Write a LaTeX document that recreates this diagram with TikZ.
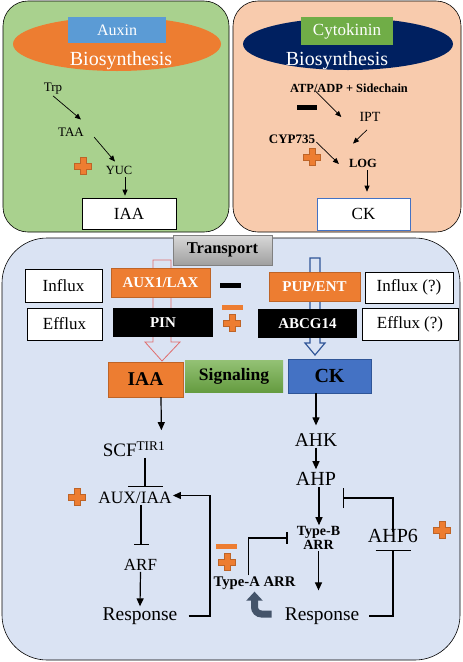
\documentclass[tikz,border=0pt]{standalone}
\usepackage{fontspec}
\setmainfont{Liberation Serif}
\usetikzlibrary{arrows.meta}

\definecolor{leafgreen}{HTML}{A9D18E}
\definecolor{peach}{HTML}{F8CBAD}
\definecolor{paleblue}{HTML}{DAE3F3}
\definecolor{hormorange}{HTML}{ED7D31}
\definecolor{skyblue}{HTML}{5B9BD5}
\definecolor{navy}{HTML}{002060}
\definecolor{grassgreen}{HTML}{70AD47}
\definecolor{ckblue}{HTML}{4472C4}
\definecolor{slate}{HTML}{44546A}
\definecolor{pinkred}{HTML}{E06C6C}
\definecolor{darkblue}{HTML}{2F5597}

\newcommand{\fsz}[1]{\fontsize{#1}{#1}\selectfont}

\tikzset{
  lbl/.style={inner sep=1pt},
  arr/.style={-{Triangle[length=6pt,width=5pt]}, line width=0.7pt},
  arrb/.style={-{Triangle[length=8pt,width=7pt]}, line width=1.2pt},
  inh/.style={-{Bar[width=#1]}, line width=1.2pt},
  inh/.default=20pt,
  whitebox/.style={draw, fill=white, line width=0.6pt, inner sep=0pt},
  orangebox/.style={draw=hormorange!80!black, fill=hormorange, text=white, font=\bfseries\fsz{15}, inner sep=0pt},
  blackbox/.style={fill=black, text=white, font=\bfseries\fsz{15}, inner sep=0pt},
  fat/.style={-{Triangle[length=9pt,width=16pt]}, line width=7pt, draw=slate},
  pluss/.pic={
    \fill[hormorange, draw=hormorange!80!black, line width=0.3pt]
      (-8.5,-3) -- (-3,-3) -- (-3,-8.5) -- (3,-8.5) -- (3,-3) -- (8.5,-3) --
      (8.5,3) -- (3,3) -- (3,8.5) -- (-3,8.5) -- (-3,3) -- (-8.5,3) -- cycle;
  }
}

\begin{document}
\begin{tikzpicture}[x=1pt, y=-1pt]
  \useasboundingbox (0,0) rectangle (463,662);

  % auxin biosynthesis
  \draw [fill=leafgreen, line width=0.6pt, rounded corners=25pt] (3,1) rectangle (229,232);
  \fill [hormorange] (117,44) ellipse [x radius=104pt, y radius=27pt];
  \node [fill=skyblue, minimum width=98pt, minimum height=26pt, text=white, font=\fsz{16}] (auxin) at (117,30) {Auxin};
  \node [lbl, text=white, font=\fsz{20}] (bioa) at (121,61) {Biosynthesis};
  \node [lbl, font=\fsz{13}] (trp) at (53,89) {Trp};
  \node [lbl, font=\fsz{13}] (taa) at (71,132) {TAA};
  \node [lbl, font=\fsz{12.5}] (yuc) at (119,170) {YUC};
  \node [whitebox, minimum width=94pt, minimum height=31pt, font=\fsz{17}] (iaatop) at (129,213.5) {IAA};
  \pic at (83,166) {pluss};
  \draw [arr] (trp.south) -- ([xshift=10pt,yshift=7pt]taa.north);
  \draw [arr] ([xshift=9pt,yshift=-5pt]taa.east) -- ([xshift=-4pt,yshift=3pt]yuc.north);
  \draw [arr] ([xshift=6pt,yshift=-2pt]yuc.south) -- ([xshift=-4pt,yshift=2pt]iaatop.north);

  % cytokinin biosynthesis
  \draw [fill=peach, line width=0.6pt, rounded corners=25pt] (233,1) rectangle (461,232);
  \fill [navy] (348,44) ellipse [x radius=105pt, y radius=26pt];
  \node [fill=grassgreen, minimum width=92pt, minimum height=28pt, text=white, font=\fsz{17}] (cyto) at (347,31) {Cytokinin};
  \node [lbl, text=white, font=\fsz{20}] (biob) at (337,61) {Biosynthesis};
  \node [lbl, font=\bfseries\fsz{12.4}] (atp) at (349,88) {ATP/ADP + Sidechain};
  \node [lbl, font=\fsz{14}] (ipt) at (370,117) {IPT};
  \node [lbl, font=\bfseries\fsz{13}] (cyp) at (292,139) {CYP735};
  \node [lbl, font=\bfseries\fsz{12.5}] (log) at (363,163) {LOG};
  \node [whitebox, draw=ckblue, minimum width=93pt, minimum height=32pt, font=\fsz{17}] (cktop) at (363.5,214) {CK};
  \fill (297,105) rectangle (317,110);
  \pic at (312,157) {pluss};
  \draw [arr] ([xshift=-34pt,yshift=3pt]atp.south) -- ([xshift=-17pt]ipt.west);
  \draw [arr] ([xshift=-3pt,yshift=-7pt]ipt.south) -- ([xshift=-10pt,yshift=14pt]log.north);
  \draw [arr] ([yshift=-3pt]cyp.east) -- ([xshift=-9pt,yshift=-1pt]log.west);
  \draw [arr] ([xshift=4pt,yshift=-2pt]log.south) -- ([xshift=3.5pt,yshift=6pt]cktop.north);

  % transport and signaling
  \draw [fill=paleblue, line width=0.6pt, rounded corners=45pt] (2,238) rectangle (460,660);
  \draw [pinkred, line width=0.8pt] (153,260) -- (153,342) -- (145,342) -- (162,361) -- (180,342) -- (171,342) -- (171,260) -- cycle;
  \draw [darkblue, line width=1.2pt] (310,258) -- (310,343) -- (305,343) -- (315,355) -- (325,343) -- (320,343) -- (320,258) -- cycle;
  \node [draw=gray, top color=gray!30, bottom color=gray!75, minimum width=99pt, minimum height=30pt, inner sep=0pt, font=\bfseries\fsz{16.5}] (transport) at (222.5,250) {Transport};

  \node [whitebox, minimum width=77pt, minimum height=33pt, font=\fsz{17}] (influx) at (63.5,285.5) {Influx};
  \node [orangebox, minimum width=99pt, minimum height=29pt] (aux1) at (160.5,282.5) {AUX1/LAX};
  \node [orangebox, minimum width=91pt, minimum height=29pt] (pup) at (314.5,286.5) {PUP/ENT};
  \node [whitebox, minimum width=88pt, minimum height=31pt, font=\fsz{17}] (influxq) at (409,287.5) {Influx (?)};
  \node [whitebox, minimum width=75pt, minimum height=32pt, font=\fsz{17}] (efflux) at (64.5,324) {Efflux};
  \node [blackbox, minimum width=100pt, minimum height=29pt] (pin) at (163,322.5) {PIN};
  \node [blackbox, minimum width=99pt, minimum height=29pt] (abcg) at (307.5,323.5) {ABCG14};
  \node [whitebox, minimum width=96pt, minimum height=32pt, font=\fsz{17}] (effluxq) at (410,324) {Efflux (?)};
  \fill (220,283) rectangle (241,288);
  \fill [hormorange] (222,305) rectangle (243,310);
  \pic at (232,323) {pluss};

  \node [draw=hormorange!80!black, fill=hormorange, minimum width=75pt, minimum height=35pt, inner sep=0pt, font=\bfseries\fsz{19.5}] (iaa) at (145.5,379.5) {IAA};
  \node [top color=grassgreen!75!white, bottom color=grassgreen!90!black, minimum width=98pt, minimum height=32pt, inner sep=0pt, font=\bfseries\fsz{17.5}] (signal) at (234,376) {Signaling};
  \node [draw=darkblue, fill=ckblue, minimum width=83pt, minimum height=34pt, inner sep=0pt, font=\bfseries\fsz{20}] (ck) at (329.5,376) {CK};

  % auxin signaling
  \node [lbl, font=\fsz{19}] (scf) at (134,449) {SCF\textsuperscript{TIR1}};
  \node [lbl, font=\fsz{17.4}] (auxiaa) at (135,497.5) {AUX/IAA};
  \node [lbl, font=\fsz{17}] (arf) at (140.5,565) {ARF};
  \node [lbl, font=\fsz{19.5}] (respa) at (140,616) {Response};
  \pic at (77,497) {pluss};
  \coordinate (scfdown) at ([xshift=11pt]scf.south);
  \coordinate (auxdown) at ([xshift=6pt]auxiaa.south);
  \draw [arrb] ([xshift=15.5pt]iaa.south) -- ([xshift=-5pt,yshift=10pt]scf.north east);
  \draw [inh=35pt] (scfdown) -- ([yshift=3pt]scfdown |- auxiaa.north);
  \draw [inh=15pt] (auxdown) -- ([yshift=13pt]auxdown |- arf.north);
  \draw [arrb] (arf.south) -- (respa.north);
  \draw [arrb] ([xshift=10pt]respa.east) -| ([xshift=37pt,yshift=2pt]auxiaa.east) -- ([yshift=2pt]auxiaa.east);

  % cytokinin signaling
  \node [lbl, font=\fsz{19.5}] (ahk) at (316,440) {AHK};
  \node [lbl, font=\fsz{20}] (ahp) at (316,479) {AHP};
  \node [lbl, align=center, font=\bfseries\fsz{14}] (typeb) at (318.5,538) {Type-B\\ARR};
  \node [lbl, font=\fsz{20}] (ahpsix) at (393,536) {AHP6};
  \node [lbl, font=\bfseries\fsz{14.7}] (typea) at (254.5,583) {Type-A ARR};
  \node [lbl, font=\fsz{19.4}] (respb) at (322,616) {Response};
  \pic at (442,530) {pluss};
  \fill [hormorange] (216,544) rectangle (237,549);
  \pic at (227,562) {pluss};
  \draw [arrb, shorten >=7pt] (ck.south -| ahk.north) -- (ahk.north);
  \draw [arrb, shorten >=2pt] (ahk.south) -- (ahp.north);
  \draw [arrb] ([xshift=3pt]ahp.south) -- ([xshift=3pt]ahp.south |- typeb.north);
  \draw [arrb, shorten >=16pt] (typeb.south) -- (typeb.south |- respb.north);
  \draw [inh=20pt] ([yshift=-4pt]ahpsix.north) |- ([xshift=6pt,yshift=-19pt]ahp.east);
  \draw [inh=35pt] ([xshift=9pt]respb.east) -| ([yshift=-6pt]ahpsix.south);
  \draw [inh=12pt] ([xshift=-6pt]typea.north) |- ([xshift=-8pt]typeb.west);
  \draw [fat, rounded corners=7pt] ([xshift=-12pt,yshift=2pt]respb.west) -| ([yshift=-1pt]typea.south);
\end{tikzpicture}
\end{document}
